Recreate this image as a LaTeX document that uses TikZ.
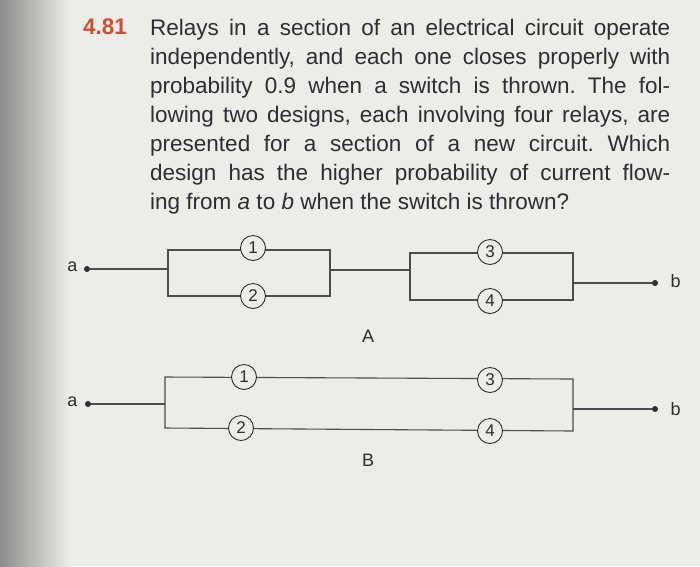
\documentclass[tikz,border=0pt]{standalone}
\usepackage{fontspec}
\setmainfont{Liberation Sans}
\definecolor{paper}{RGB}{236,236,233}
\definecolor{ink}{RGB}{45,45,50}
\definecolor{num}{RGB}{205,80,45}
\begin{document}
\frenchspacing
\begin{tikzpicture}[x=1pt,y=-1pt,
  wire/.style={draw=ink!85,line width=1.1pt},
  relay/.style={circle,draw=ink,line width=0.9pt,fill=paper,minimum size=25pt,inner sep=0pt,font=\fontsize{17}{17}\selectfont,text=ink},
  term/.style={circle,fill=ink,minimum size=6pt,inner sep=0pt},
  lab/.style={font=\fontsize{18}{18}\selectfont,text=ink}]
\useasboundingbox (0,0) rectangle (700,566);
\fill[paper] (0,0) rectangle (700,566);
\shade[left color=black!45,right color=paper] (0,0) rectangle (70,566);
\node[anchor=north west,inner sep=0pt,text=num,font=\fontsize{22.5}{29}\selectfont\bfseries] (num) at (83,19) {4.81};
\node[anchor=north west,inner sep=0pt,text width=520pt,align=justify,text=ink,font=\fontsize{22.5}{29}\selectfont\frenchspacing] (txt) at (150,19) {Relays in a section of an electrical circuit operate\linebreak independently, and each one closes properly with\linebreak probability 0.9 when a switch is thrown. The fol-\linebreak lowing two designs, each involving four relays, are\linebreak presented for a section of a new circuit. Which\linebreak design has the higher probability of current flow-\linebreak ing from \textit{a} to \textit{b} when the switch is thrown?};
% Design A
\node[term] (aA) at (87,269) {};
\node[lab,anchor=east] (aAl) at (81,267) {a};
\coordinate (A1) at (168,269);
\draw[wire] (aA) -- (A1);
\draw[wire] (168,250) rectangle (330,296);
\draw[wire] (330,270) -- (410,270);
\draw[wire] (410,253) rectangle (573,300);
\node[term] (bA) at (655,283) {};
\draw[wire] (573,283) -- (bA);
\node[lab,anchor=west] (bAl) at (667,281) {b};
\node[relay] (r1) at (253,248) {1};
\node[relay] (r2) at (253,296) {2};
\node[relay] (r3) at (490,252) {3};
\node[relay] (r4) at (490,301) {4};
\node[lab] (LA) at (368,336) {A};
% Design B
\node[term] (aB) at (88,404) {};
\node[lab,anchor=east] (aBl) at (81,402) {a};
\draw[wire] (aB) -- (165,404);
\draw[wire] (165,404) -- (165,377) -- (573,379) -- (573,431) -- (165,428) -- cycle;
\node[term] (bB) at (655,409) {};
\draw[wire] (573,409) -- (bB);
\node[lab,anchor=west] (bBl) at (667,409) {b};
\node[relay] (s1) at (244,377) {1};
\node[relay] (s2) at (241,428) {2};
\node[relay] (s3) at (490,380) {3};
\node[relay] (s4) at (490,431) {4};
\node[lab] (LB) at (368,460) {B};
\end{tikzpicture}
\end{document}
